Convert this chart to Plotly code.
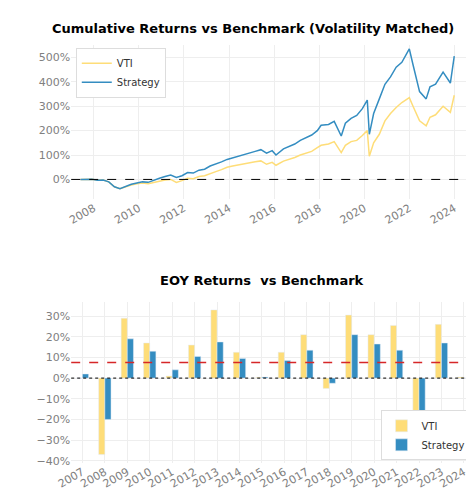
import plotly.graph_objects as go

dates = ["2007-06-01","2007-09-01","2007-12-01","2008-03-01","2008-06-01","2008-09-01","2008-12-01","2009-03-01","2009-06-01","2009-09-01","2009-12-01","2010-03-01","2010-06-01","2010-09-01","2010-12-01","2011-03-01","2011-06-01","2011-09-01","2011-12-01","2012-03-01","2012-06-01","2012-09-01","2012-12-01","2013-03-01","2013-06-01","2013-09-01","2013-12-01","2014-03-01","2014-06-01","2014-09-01","2014-12-01","2015-03-01","2015-06-01","2015-09-01","2015-12-01","2016-02-01","2016-06-01","2016-09-01","2016-12-01","2017-03-01","2017-06-01","2017-09-01","2017-12-01","2018-02-01","2018-06-01","2018-09-01","2018-12-24","2019-03-01","2019-06-01","2019-09-01","2019-12-01","2020-02-19","2020-03-23","2020-06-01","2020-09-01","2020-12-01","2021-03-01","2021-06-01","2021-09-01","2021-12-31","2022-03-01","2022-06-15","2022-09-30","2022-12-01","2023-03-01","2023-07-01","2023-10-27","2023-12-29"]
strategy = [0,2,1,-3,-2,-10,-30,-38,-28,-20,-15,-10,-12,-5,5,12,18,8,15,28,26,38,42,55,62,72,82,88,95,100,108,115,122,108,118,100,125,135,145,160,170,182,200,222,225,238,178,230,250,262,290,325,185,270,330,390,420,460,480,535,470,360,330,380,390,440,395,505]
vti = [0,2,1,-3,-2,-10,-30,-38,-30,-23,-18,-15,-18,-12,-8,-2,0,-12,-5,5,3,12,15,25,32,40,50,55,60,63,68,72,76,62,70,58,75,82,90,100,108,115,130,140,145,155,110,140,155,160,180,200,95,150,185,240,270,295,315,335,300,240,220,255,265,300,275,345]

years = [str(y) for y in range(2007, 2025)]
eoy_vti = [0,-37,29,17,1,16,33,12.5,0.4,12.5,21,-5,30.5,21,25.5,-19.5,26,0.5]
eoy_strategy = [2,-20,19,13,4,10.5,17.5,9.5,0.5,8.5,13.5,-2.5,21,16.5,13.5,-16,17,0]
eoy_mean = 7.5

YEL = "#fedd78"
BLU = "#348dc1"
fig = go.Figure()
fig.add_trace(go.Scatter(x=dates, y=vti, name="VTI", mode="lines", line=dict(color=YEL, width=1.5), xaxis="x", yaxis="y", legend="legend"))
fig.add_trace(go.Scatter(x=dates, y=strategy, name="Strategy", mode="lines", line=dict(color=BLU, width=1.5), xaxis="x", yaxis="y", legend="legend"))
fig.add_trace(go.Bar(x=years, y=eoy_vti, name="VTI", marker_color=YEL, xaxis="x2", yaxis="y2", legend="legend2"))
fig.add_trace(go.Bar(x=years, y=eoy_strategy, name="Strategy", marker_color=BLU, xaxis="x2", yaxis="y2", legend="legend2"))

gray = "#808080"
grid = "#eeeeee"
fig.update_layout(
    width=474, height=501, margin=dict(l=0, r=0, t=0, b=0),
    paper_bgcolor="white", plot_bgcolor="white",
    font=dict(family="DejaVu Sans", size=11, color=gray),
    bargap=0.45, bargroupgap=0.0,
    xaxis=dict(domain=[0.105, 0.985], anchor="y", type="date", range=["2007-01-01", "2024-12-01"],
               dtick="M24", tick0="2008-01-01", tickformat="%Y", tickangle=-30, showgrid=True, gridcolor=grid, zeroline=False, showline=False),
    yaxis=dict(domain=[0.615, 0.925], anchor="x", range=[-80, 550], ticksuffix="%", dtick=100, showgrid=True, gridcolor=grid, zeroline=False),
    xaxis2=dict(domain=[0.105, 0.985], anchor="y2", type="category", tickangle=-30, showgrid=True, gridcolor=grid, range=[-0.5, 17.5]),
    yaxis2=dict(domain=[0.083, 0.408], anchor="x2", range=[-41, 37], ticksuffix="%", dtick=10, showgrid=True, gridcolor=grid, zeroline=False),
    legend=dict(x=0.115, y=0.92, xanchor="left", yanchor="top", bgcolor="white", bordercolor="#dddddd", borderwidth=1,
                font=dict(size=10, color="#333"), tracegroupgap=0),
    legend2=dict(x=0.975, y=0.088, xanchor="right", yanchor="bottom", bgcolor="white", bordercolor="#dddddd", borderwidth=1,
                 font=dict(size=10, color="#333"), tracegroupgap=0),
    shapes=[
        dict(type="line", xref="x domain", yref="y", x0=0, x1=1, y0=0, y1=0, line=dict(color="black", width=1, dash="dash")),
        dict(type="line", xref="x2 domain", yref="y2", x0=0, x1=1, y0=0, y1=0, line=dict(color="black", width=1, dash="dot")),
        dict(type="line", xref="x2 domain", yref="y2", x0=0, x1=1, y0=eoy_mean, y1=eoy_mean, line=dict(color="#d62728", width=1.5, dash="dash")),
    ],
    annotations=[
        dict(text="<b>Cumulative Returns vs Benchmark (Volatility Matched)</b>", x=0.5, y=0.978, xref="paper", yref="paper", showarrow=False, font=dict(size=13, color="black")),
        dict(text="<b>EOY Returns  vs Benchmark</b>", x=0.52, y=0.45, xref="paper", yref="paper", showarrow=False, font=dict(size=13, color="black")),
    ],
)
fig.write_html("out.html")
